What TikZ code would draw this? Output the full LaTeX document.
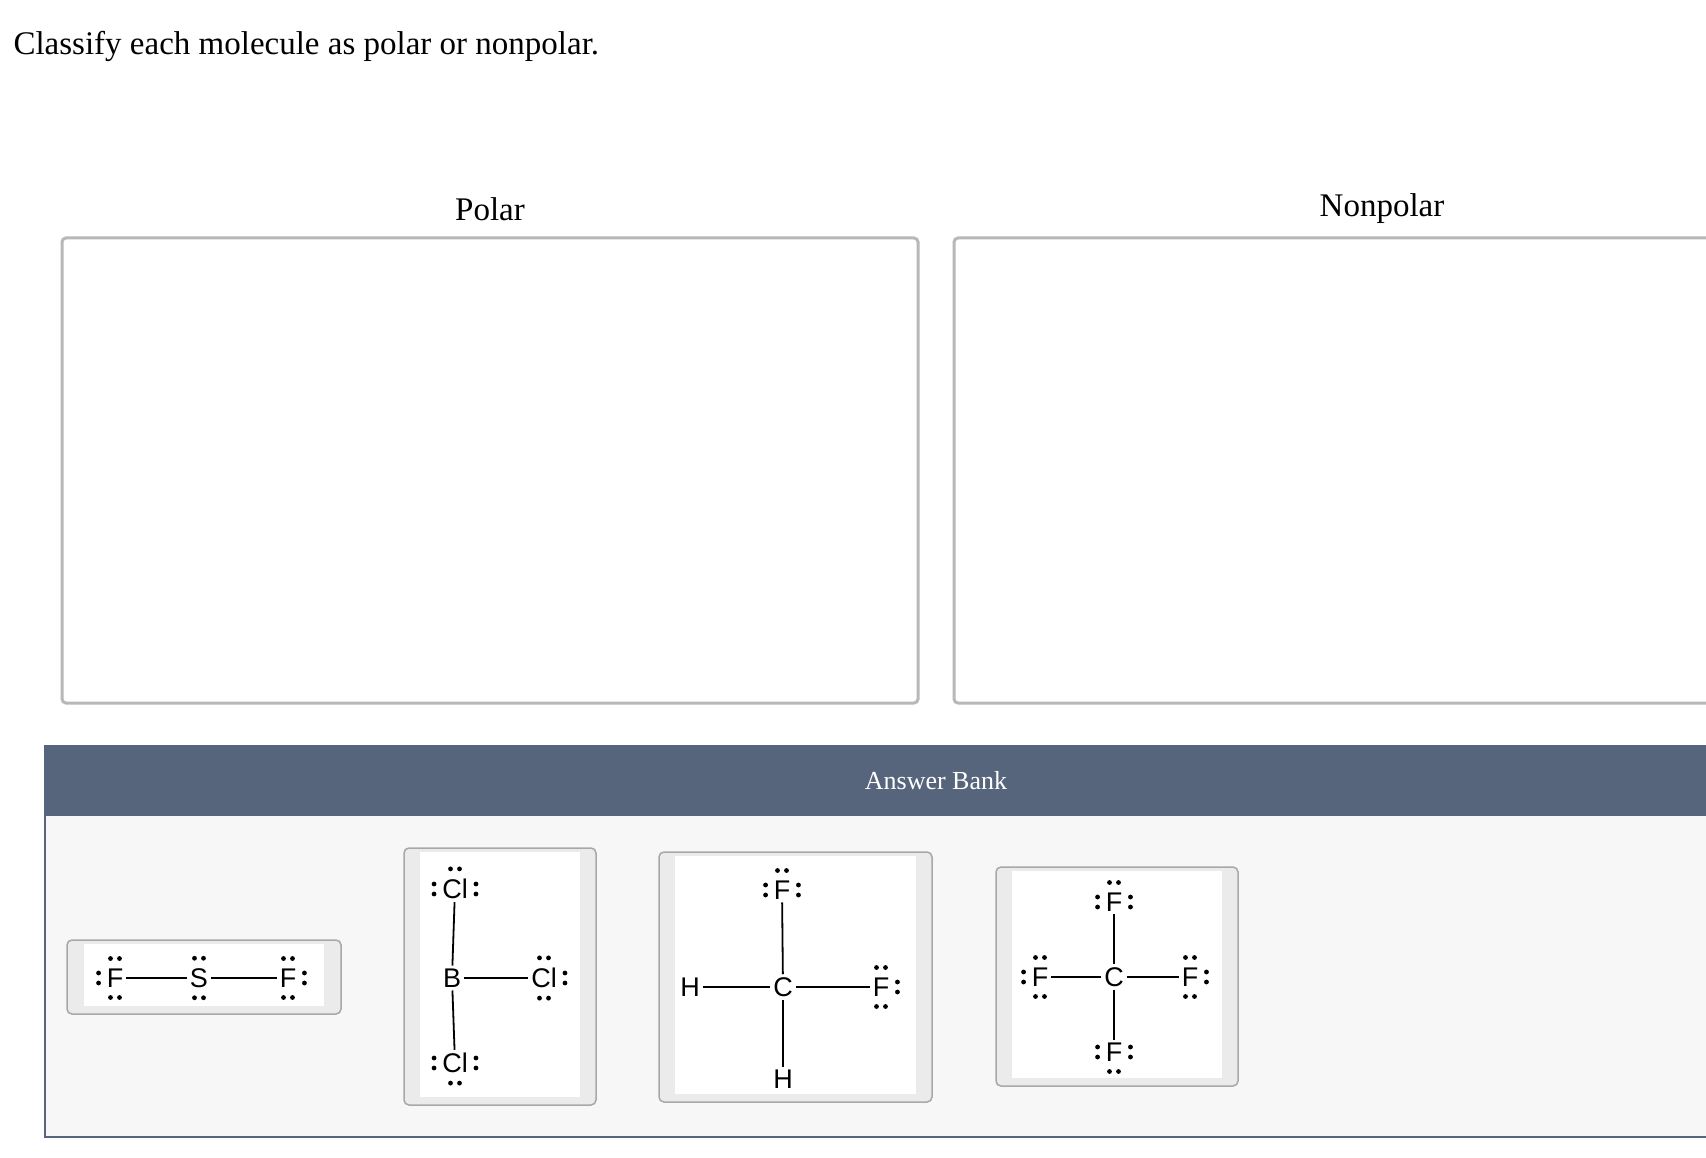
\documentclass[tikz,border=0pt]{standalone}
\usepackage{fontspec}
\setmainfont{Liberation Serif}
\newfontfamily\atomfont{Liberation Sans}
\definecolor{hdr}{HTML}{56657C}
\definecolor{bankbg}{HTML}{F7F7F7}
\definecolor{boxgray}{HTML}{B8B8B8}
\definecolor{cardgray}{HTML}{A8A8A8}
\tikzset{
  atom/.style={font=\atomfont\fontsize{27}{27}\selectfont, inner sep=3pt},
  bond/.style={line width=1.8pt},
  target/.style={draw=boxgray, line width=3pt, rounded corners=4pt, fill=white},
  card/.style={draw=cardgray, line width=1.5pt, rounded corners=5pt, fill=black!8},
  lbl/.style={font=\fontsize{33}{33}\selectfont},
}
\newcommand\dotA[2]{\fill ([#2]#1) circle (2.4pt);}
\newcommand\pN[1]{\fill ([xshift=-4.5pt,yshift=7pt]#1.north) circle (2.4pt) ([xshift=4.5pt,yshift=7pt]#1.north) circle (2.4pt);}
\newcommand\pS[1]{\fill ([xshift=-4.5pt,yshift=-7pt]#1.south) circle (2.4pt) ([xshift=4.5pt,yshift=-7pt]#1.south) circle (2.4pt);}
\newcommand\pW[1]{\fill ([xshift=-5pt,yshift=5pt]#1.west) circle (2.4pt) ([xshift=-5pt,yshift=-5pt]#1.west) circle (2.4pt);}
\newcommand\pE[1]{\fill ([xshift=5pt,yshift=5pt]#1.east) circle (2.4pt) ([xshift=5pt,yshift=-5pt]#1.east) circle (2.4pt);}
\begin{document}
\begin{tikzpicture}[x=1pt,y=-1pt]
\useasboundingbox (0,0) rectangle (1706,1158);
\fill[white] (0,0) rectangle (1706,1158);
\node[lbl, anchor=west] (title) at (10,46) {Classify each molecule as polar or nonpolar.};
\node[lbl] (polar) at (490,209) {Polar};
\node[lbl] (nonpolar) at (1382,209) {Nonpolar};
\draw[target] (62,238) rectangle (918,703);
\draw[target] (954,238) rectangle (1716,703);
% answer bank
\fill[bankbg] (45,816) rectangle (1706,1137);
\fill[hdr] (45,745) rectangle (1706,816);
\draw[hdr, line width=2pt] (45,745) -- (45,1137) -- (1706,1137);
\node[font=\fontsize{26}{26}\selectfont, text=white] (bank) at (936,781) {Answer Bank};
% cards
\draw[card] (67,940) rectangle (341,1014);
\fill[white] (84,944) rectangle (324,1006);
\draw[card] (404,848) rectangle (596,1105);
\fill[white] (420,852) rectangle (580,1097);
\draw[card] (659,852) rectangle (932,1102);
\fill[white] (675,856) rectangle (916,1094);
\draw[card] (996,867) rectangle (1238,1086);
\fill[white] (1012,871) rectangle (1222,1078);
% SF2
\node[atom] (f1) at (115,978) {F};
\node[atom] (s) at (199,978) {S};
\node[atom] (f2) at (288,978) {F};
\draw[bond] (f1) -- (s); \draw[bond] (s) -- (f2);
\pN{f1}\pS{f1}\pW{f1}\pN{s}\pS{s}\pN{f2}\pS{f2}\pE{f2}
% BCl3
\node[atom] (b) at (452,978) {B};
\node[atom] (cl1) at (455,889) {Cl};
\node[atom] (cl2) at (544,978) {Cl};
\node[atom] (cl3) at (455,1063) {Cl};
\draw[bond] (b) -- (cl1); \draw[bond] (b) -- (cl2); \draw[bond] (b) -- (cl3);
\pN{cl1}\pW{cl1}\pE{cl1}\pN{cl2}\pS{cl2}\pE{cl2}\pW{cl3}\pE{cl3}\pS{cl3}
% CH2F2
\node[atom] (c1) at (783,987) {C};
\node[atom] (ft) at (782,890) {F};
\node[atom] (hl) at (690,987) {H};
\node[atom] (fr) at (881,987) {F};
\node[atom] (hb) at (783,1079) {H};
\draw[bond] (c1) -- (ft); \draw[bond] (c1) -- (hl); \draw[bond] (c1) -- (fr); \draw[bond] (c1) -- (hb);
\pN{ft}\pW{ft}\pE{ft}\pN{fr}\pS{fr}\pE{fr}
% CF4
\node[atom] (c2) at (1114,977) {C};
\node[atom] (ga) at (1114,902) {F};
\node[atom] (gb) at (1040,977) {F};
\node[atom] (gc) at (1190,977) {F};
\node[atom] (gd) at (1114,1052) {F};
\draw[bond] (c2) -- (ga); \draw[bond] (c2) -- (gb); \draw[bond] (c2) -- (gc); \draw[bond] (c2) -- (gd);
\pN{ga}\pW{ga}\pE{ga}\pN{gb}\pS{gb}\pW{gb}\pN{gc}\pS{gc}\pE{gc}\pW{gd}\pE{gd}\pS{gd}
\end{tikzpicture}
\end{document}
